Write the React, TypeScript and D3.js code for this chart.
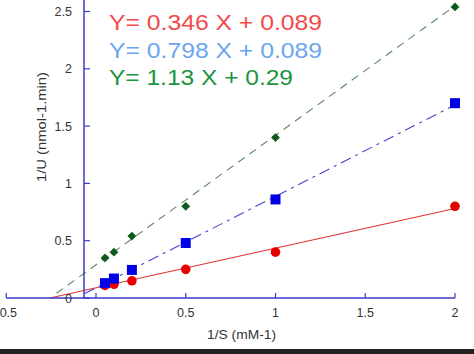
import * as d3 from 'd3';

const sValues = [0.05, 0.1, 0.2, 0.5, 1, 2];
const redValues = [0.11, 0.12, 0.15, 0.25, 0.4, 0.8];
const blueValues = [0.13, 0.17, 0.245, 0.48, 0.86, 1.7];
const greenValues = [0.35, 0.4, 0.54, 0.8, 1.4, 2.54];

const xTicks = [-0.5, 0, 0.5, 1, 1.5, 2];
const yTicks = [0, 0.5, 1, 1.5, 2, 2.5];

const fits = [
  { label: 'Y= 0.346 X + 0.089', slope: 0.346, icpt: 0.089, from: -0.257, color: '#f24a4a' },
  { label: 'Y= 0.798 X + 0.089', slope: 0.798, icpt: 0.089, from: -0.065, color: '#6aa6ee' },
  { label: 'Y= 1.13 X + 0.29', slope: 1.13, icpt: 0.29, from: -0.22, color: '#1b9440' },
];

const W = 474;
const H = 354;
const axisColor = '#3b3bc6';

export default function App() {
  const x = d3.scaleLinear().domain([0, 2]).range([96, 455]);
  const y = d3.scaleLinear().domain([0, 2.5]).range([298, 11.5]);
  const yAxisX = x(-0.067);

  const line = d3.line<[number, number]>()
    .x(d => x(d[0]))
    .y(d => y(d[1]));

  const fitPath = (i: number) => {
    const f = fits[i];
    return line([[f.from, f.slope * f.from + f.icpt], [2, f.slope * 2 + f.icpt]]) ?? '';
  };

  const diamond = d3.symbol().type(d3.symbolDiamond2).size(50)() ?? '';

  return (
    <svg width={W} height={H} style={{ position: 'absolute', left: 0, top: 0, background: '#fff' }}
      fontFamily="'Liberation Sans', Arial, sans-serif">
      <rect x={0} y={0} width={W} height={H} fill="#fff" />

      {/* fit lines */}
      <path d={fitPath(0)} fill="none" stroke="#e23232" strokeWidth={1.1} />
      <path d={fitPath(1)} fill="none" stroke="#4444d2" strokeWidth={1.1} strokeDasharray="11,5,3,5" />
      <path d={fitPath(2)} fill="none" stroke="#5c8a5c" strokeWidth={1.1} strokeDasharray="8,6" />

      {/* axes */}
      <line x1={x(-0.5)} x2={x(2)} y1={y(0)} y2={y(0)} stroke={axisColor} strokeWidth={1.5} />
      <line x1={yAxisX} x2={yAxisX} y1={0} y2={y(0) + 1} stroke={axisColor} strokeWidth={1.5} />
      {xTicks.map(t => (
        <g key={'x' + t}>
          <line x1={x(t)} x2={x(t)} y1={y(0)} y2={y(0) - 5} stroke={axisColor} strokeWidth={1.2} />
          <text x={x(t)} y={y(0) + 19} textAnchor="middle" fontSize={12.5} fill="#333">{t}</text>
        </g>
      ))}
      {yTicks.map(t => (
        <g key={'y' + t}>
          <line x1={yAxisX} x2={yAxisX + 6} y1={y(t)} y2={y(t)} stroke={axisColor} strokeWidth={1.2} />
          <text x={yAxisX - 12} y={y(t) + 4.5} textAnchor="end" fontSize={12.5} fill="#333">{t}</text>
        </g>
      ))}
      <text x={241.5} y={339} textAnchor="middle" fontSize={13} fill="#333"
        textLength={69} lengthAdjust="spacingAndGlyphs">1/S (mM-1)</text>
      <text transform="translate(46,127) rotate(-90)" textAnchor="middle" fontSize={13} fill="#333"
        textLength={110} lengthAdjust="spacingAndGlyphs">1/U  (nmol-1.min)</text>

      {/* markers */}
      {sValues.map((s, i) => (
        <circle key={'r' + i} cx={x(s)} cy={y(redValues[i])} r={4.8} fill="#e60000" />
      ))}
      {sValues.map((s, i) => (
        <rect key={'b' + i} x={x(s) - 5} y={y(blueValues[i]) - 5} width={10} height={10} fill="#0000e6" />
      ))}
      {sValues.map((s, i) => (
        <path key={'g' + i} d={diamond} transform={`translate(${x(s)},${y(greenValues[i])})`} fill="#0c5a1c" />
      ))}

      {/* equations */}
      {fits.map((f, i) => (
        <text key={f.label} x={109} y={30 + i * 27.5} fontSize={21.5} fill={f.color}
          textLength={i < 2 ? 213 : 184} lengthAdjust="spacingAndGlyphs">{f.label}</text>
      ))}

      <rect x={0} y={349} width={W} height={5} fill="#222" />
    </svg>
  );
}
